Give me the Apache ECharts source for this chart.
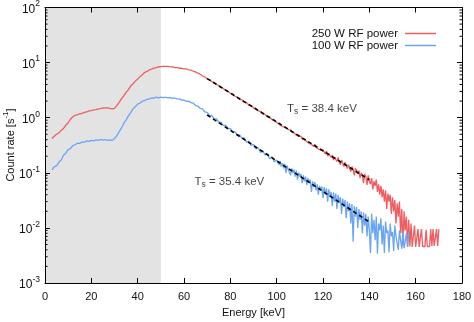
<!DOCTYPE html>
<html>
<head>
<meta charset="utf-8">
<script src="https://cdn.jsdelivr.net/npm/echarts@6/dist/echarts.min.js"></script>
<style>
html, body { margin: 0; padding: 0; background: #fff; }
#chart { width: 474px; height: 322px; }
</style>
</head>
<body>
<div id="chart"></div>
<script>
// Energy grid: 1 keV bins from 3 to 100 keV, 0.5 keV bins above 100 keV
const lowStart = 3, lowStep = 1;
const highStart = 100.5, highStep = 0.5;

// Count rate [1/s], 250 W RF power
const red250Low = [
  0.42, 0.46, 0.50, 0.53, 0.59, 0.64, 0.73, 0.81, 0.94, 1.04,
  1.11, 1.13, 1.18, 1.20, 1.25, 1.27, 1.33, 1.35, 1.39, 1.40,
  1.45, 1.46, 1.50, 1.51, 1.51, 1.47, 1.44, 1.48, 1.66, 1.90,
  2.20, 2.49, 2.88, 3.24, 3.75, 4.14, 4.61, 5.02, 5.56, 6.00,
  6.62, 6.91, 7.36, 7.63, 7.95, 8.11, 8.40, 8.42, 8.57, 8.55,
  8.54, 8.38, 8.36, 8.13, 8.08, 7.90, 7.89, 7.72, 7.71, 7.41,
  7.28, 6.96, 6.80, 6.42, 6.14, 5.71, 5.47, 5.10, 4.86, 4.52,
  4.31, 4.00, 3.82, 3.54, 3.39, 3.13, 3.01, 2.78, 2.67, 2.45,
  2.37, 2.17, 2.10, 1.92, 1.87, 1.70, 1.66, 1.50, 1.47, 1.33,
  1.30, 1.17, 1.15, 1.04, 1.02, 0.92, 0.90, 0.82
];
const red250High = [
  0.80, 0.77, 0.79, 0.71, 0.74, 0.68, 0.69, 0.66, 0.64, 0.61,
  0.58, 0.60, 0.55, 0.56, 0.53, 0.52, 0.48, 0.51, 0.46, 0.47,
  0.46, 0.41, 0.44, 0.40, 0.41, 0.37, 0.39, 0.34, 0.36, 0.33,
  0.34, 0.30, 0.33, 0.29, 0.30, 0.27, 0.28, 0.26, 0.25, 0.26,
  0.25, 0.22, 0.25, 0.20, 0.22, 0.21, 0.19, 0.21, 0.17, 0.19,
  0.18, 0.16, 0.19, 0.155, 0.14, 0.17, 0.15, 0.13, 0.155, 0.135,
  0.12, 0.14, 0.13, 0.105, 0.13, 0.115, 0.09, 0.12, 0.11, 0.095,
  0.11, 0.08, 0.10, 0.09, 0.065, 0.095, 0.085, 0.06, 0.09, 0.07,
  0.062, 0.08, 0.05, 0.07, 0.058, 0.075, 0.045, 0.062, 0.04, 0.058,
  0.036, 0.05, 0.03, 0.048, 0.022, 0.042, 0.03, 0.04, 0.018, 0.036,
  0.02, 0.032, 0.012, 0.028, 0.016, 0.03, 0.008, 0.022, 0.0047, 0.02,
  0.009, 0.016, 0.0046, 0.014, 0.0046, 0.012, 0.0045, 0.0045, 0.011, 0.0045,
  0.0045, 0.0095, 0.0045, 0.0045, 0.0095, 0.0046, 0.0046, 0.0046, 0.0092, 0.0046,
  0.0046, 0.0046, 0.0095, 0.0047, 0.0095, 0.0047, 0.0047, 0.0095, 0.0047, 0.0095
];

// Count rate [1/s], 100 W RF power
const blue100Low = [
  0.113, 0.130, 0.134, 0.155, 0.171, 0.209, 0.227, 0.263, 0.276, 0.312,
  0.322, 0.345, 0.341, 0.364, 0.358, 0.379, 0.371, 0.389, 0.378, 0.396,
  0.386, 0.403, 0.390, 0.402, 0.386, 0.396, 0.386, 0.418, 0.470, 0.560,
  0.649, 0.787, 0.905, 1.08, 1.24, 1.45, 1.58, 1.76, 1.84, 1.99,
  2.04, 2.16, 2.19, 2.28, 2.26, 2.35, 2.30, 2.37, 2.32, 2.35,
  2.28, 2.32, 2.24, 2.28, 2.19, 2.19, 2.08, 2.10, 1.98, 2.00,
  1.87, 1.83, 1.66, 1.63, 1.47, 1.44, 1.27, 1.25, 1.10, 1.09,
  0.96, 0.95, 0.83, 0.83, 0.72, 0.73, 0.63, 0.64, 0.55, 0.56,
  0.48, 0.49, 0.42, 0.43, 0.36, 0.375, 0.315, 0.33, 0.27, 0.285,
  0.235, 0.25, 0.21, 0.222, 0.18, 0.195, 0.158, 0.17
];
const blue100High = [
  0.17, 0.14, 0.165, 0.13, 0.15, 0.12, 0.145, 0.10, 0.135, 0.115,
  0.125, 0.09, 0.12, 0.10, 0.115, 0.085, 0.11, 0.075, 0.10, 0.085,
  0.095, 0.065, 0.09, 0.07, 0.085, 0.06, 0.08, 0.065, 0.075, 0.045,
  0.07, 0.055, 0.068, 0.048, 0.062, 0.04, 0.058, 0.05, 0.056, 0.035,
  0.055, 0.04, 0.052, 0.03, 0.05, 0.036, 0.045, 0.025, 0.044, 0.03,
  0.042, 0.022, 0.04, 0.028, 0.036, 0.018, 0.034, 0.024, 0.032, 0.015,
  0.03, 0.02, 0.028, 0.012, 0.027, 0.0056, 0.025, 0.016, 0.024, 0.01,
  0.022, 0.014, 0.02, 0.008, 0.019, 0.011, 0.018, 0.007, 0.016, 0.009,
  0.0035, 0.018, 0.008, 0.014, 0.006, 0.016, 0.0034, 0.012, 0.009, 0.015,
  0.005, 0.011, 0.0035, 0.013, 0.008, 0.009, 0.0036, 0.012, 0.007, 0.0085,
  0.0038, 0.011, 0.007, 0.0075, 0.004, 0.009, 0.006, 0.0042, 0.0085, 0.0043,
  0.0044, 0.008, 0.0045, 0.0085
];

// Exponential fits (straight lines on the log scale)
const fit250Energy = [70, 140];
const fit250Rate = [5.13, 0.0748];
const fit100Energy = [70, 140];
const fit100Rate = [1.12, 0.0128];

// Annotations: [energy, rate] anchor of each label
const label250 = { text: '38.4 keV', at: [104.5, 1.45] };
const label100 = { text: '35.4 keV', at: [64.5, 0.068] };

// Region excluded from the fit
const shadedEnergy = [0, 50];

const seriesNames = ['250 W RF power', '100 W RF power'];
const yDecades = [-3, -2, -1, 0, 1, 2];

const FONT = "'Liberation Sans', Arial, Helvetica, sans-serif";
const RED = '#f05c5f';
const BLUE = '#6aa5f5';

function toPairs(start, step, values) {
  return values.map((v, i) => [start + i * step, v]);
}
const red250 = toPairs(lowStart, lowStep, red250Low).concat(toPairs(highStart, highStep, red250High));
const blue100 = toPairs(lowStart, lowStep, blue100Low).concat(toPairs(highStart, highStep, blue100High));

// log-axis minor tick values 2..9 x 10^k
const minorTickValues = [];
for (let k = yDecades[0]; k < yDecades[yDecades.length - 1]; k++) {
  for (let m = 2; m <= 9; m++) minorTickValues.push([0, m * Math.pow(10, k)]);
}

const supRich = {
  b: { fontSize: 12, fontFamily: FONT, color: '#111', lineHeight: 16, verticalAlign: 'bottom' },
  p: { fontSize: 8.5, fontFamily: FONT, color: '#111', lineHeight: 16, verticalAlign: 'top', padding: [0, 0, 7, 0] }
};
const subRich = {
  t: { fontSize: 11.5, fontFamily: FONT, color: '#111', lineHeight: 14 },
  s: { fontSize: 8.5, fontFamily: FONT, color: '#111', lineHeight: 14, padding: [5, 0, 0, 0] }
};

const chart = echarts.init(document.getElementById('chart'), null, { renderer: 'canvas' });

const xCommon = {
  type: 'value', min: 0, max: 180, interval: 20,
  splitLine: { show: false },
  axisLine: { show: true, onZero: false, lineStyle: { color: '#000', width: 1 } },
  axisTick: { show: true, inside: true, length: 5, lineStyle: { color: '#000', width: 1 } }
};
const yCommon = {
  type: 'log', logBase: 10, min: 0.001, max: 100,
  splitLine: { show: false },
  axisLine: { show: true, onZero: false, lineStyle: { color: '#000', width: 1 } },
  axisTick: { show: true, inside: true, length: 5, lineStyle: { color: '#000', width: 1 } },
  minorTick: { show: false }
};

chart.setOption({
  animation: false,
  backgroundColor: '#fff',
  textStyle: { fontFamily: FONT },
  grid: { left: 45, right: 12, top: 7.5, bottom: 39, containLabel: false, outerBoundsMode: 'none' },
  legend: {
    data: seriesNames,
    orient: 'vertical',
    right: 33,
    top: 22.5,
    align: 'right',
    icon: 'rect',
    itemWidth: 31,
    itemHeight: 1.5,
    itemGap: 0,
    textStyle: { fontSize: 11.5, fontFamily: FONT, color: '#111', padding: [0, 2, 0, 0] }
  },
  // rotated y-axis title
  graphic: [{
    type: 'text',
    x: 9,
    y: 145,
    rotation: Math.PI / 2,
    style: {
      text: '{t|Count rate [s}{p|-1}{t|]}',
      align: 'center',
      verticalAlign: 'middle',
      rich: {
        t: { fontSize: 11, fontFamily: FONT, fill: '#111', lineHeight: 14, verticalAlign: 'bottom' },
        p: { fontSize: 8, fontFamily: FONT, fill: '#111', lineHeight: 14, verticalAlign: 'top', padding: [0, 0, 6, 0] }
      }
    }
  }],
  xAxis: [
    Object.assign({}, xCommon, {
      position: 'bottom',
      name: 'Energy [keV]',
      nameLocation: 'middle',
      nameGap: 24,
      nameTextStyle: { fontSize: 11, fontFamily: FONT, color: '#111' },
      axisLabel: { fontSize: 11, fontFamily: FONT, color: '#111', margin: 8 }
    }),
    Object.assign({}, xCommon, { position: 'top', axisLabel: { show: false } })
  ],
  yAxis: [
    Object.assign({}, yCommon, {
      position: 'left',
      axisLabel: {
        margin: 5,
        formatter: v => '{b|10}{p|' + Math.round(Math.log10(v)) + '}',
        rich: supRich
      }
    }),
    Object.assign({}, yCommon, { position: 'right', axisLabel: { show: false } })
  ],
  series: [
    {
      name: seriesNames[0],
      type: 'line',
      data: red250,
      showSymbol: false,
      symbol: 'none',
      lineStyle: { color: RED, width: 1.3 },
      itemStyle: { color: RED },
      z: 3,
      markArea: {
        silent: true,
        itemStyle: { color: '#e3e3e3' },
        data: [[{ xAxis: shadedEnergy[0] }, { xAxis: shadedEnergy[1] }]],
        z: 0
      }
    },
    {
      name: seriesNames[1],
      type: 'line',
      data: blue100,
      showSymbol: false,
      symbol: 'none',
      lineStyle: { color: BLUE, width: 1.3 },
      itemStyle: { color: BLUE },
      z: 3
    },
    {
      name: 'fit250',
      type: 'line',
      data: fit250Energy.map((e, i) => [e, fit250Rate[i]]),
      showSymbol: false, symbol: 'none',
      lineStyle: { color: '#000', width: 1.6, type: [4, 3] },
      z: 5
    },
    {
      name: 'fit100',
      type: 'line',
      data: fit100Energy.map((e, i) => [e, fit100Rate[i]]),
      showSymbol: false, symbol: 'none',
      lineStyle: { color: '#000', width: 1.6, type: [4, 3] },
      z: 5
    },
    {
      name: 'labels',
      type: 'scatter',
      symbolSize: 0,
      silent: true,
      data: [label250, label100].map(l => ({ value: l.at, name: l.text })),
      label: {
        show: true,
        position: 'right',
        distance: 0,
        formatter: p => '{t|T}{s|s}{t| = ' + p.name + '}',
        rich: subRich
      },
      z: 6
    },
    {
      name: 'minorTicks',
      type: 'custom',
      silent: true,
      clip: false,
      data: minorTickValues,
      renderItem: (params, api) => {
        const v = api.value(1);
        const left = api.coord([0, v]);
        const right = api.coord([180, v]);
        const style = { stroke: '#000', lineWidth: 1 };
        return {
          type: 'group',
          children: [
            { type: 'line', shape: { x1: left[0], y1: left[1], x2: left[0] + 2.5, y2: left[1] }, style },
            { type: 'line', shape: { x1: right[0], y1: right[1], x2: right[0] - 2.5, y2: right[1] }, style }
          ]
        };
      },
      z: 6
    }
  ]
});
</script>
</body>
</html>
